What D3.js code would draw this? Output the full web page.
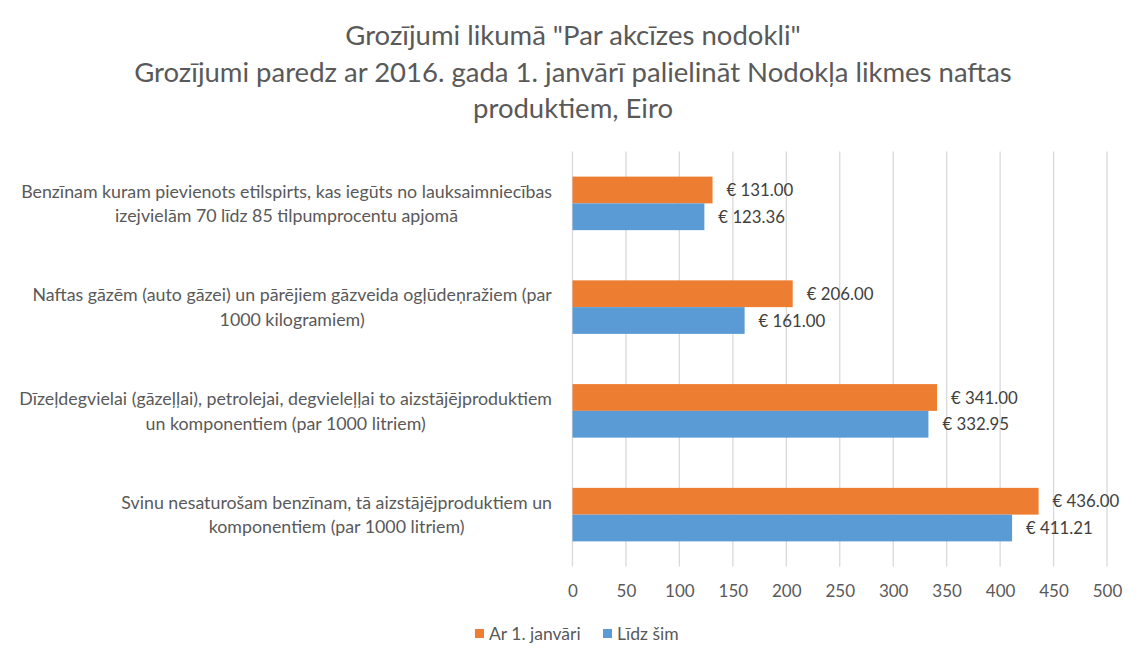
<!DOCTYPE html>
<html>
<head>
<meta charset="utf-8">
<script src="https://cdnjs.cloudflare.com/ajax/libs/d3/7.8.5/d3.min.js"></script>
<style>
  html, body { margin: 0; padding: 0; background: #fff; }
  svg { display: block; }
  text { font-family: Lato, "Open Sans", sans-serif; }
</style>
</head>
<body>
<svg id="chart" width="1146" height="664"></svg>
<script>
// ---- data ----
const titleLines = [
  'Grozījumi likumā "Par akcīzes nodokli"',
  'Grozījumi paredz ar 2016. gada 1. janvārī palielināt Nodokļa likmes naftas',
  'produktiem, Eiro'
];
const categories = [
  "Benzīnam kuram pievienots etilspirts, kas iegūts no lauksaimniecības\nizejvielām 70 līdz 85 tilpumprocentu apjomā",
  "Naftas gāzēm (auto gāzei) un pārējiem gāzveida ogļūdeņražiem (par\n1000 kilogramiem)",
  "Dīzeļdegvielai (gāzeļļai), petrolejai, degvieleļļai to aizstājējproduktiem\nun komponentiem (par 1000 litriem)",
  "Svinu nesaturošam benzīnam, tā aizstājējproduktiem un\nkomponentiem (par 1000 litriem)"
];
const seriesNames = ["Ar 1. janvāri", "Līdz šim"];
const arJanvari = [131.00, 206.00, 341.00, 436.00];
const lidzSim = [123.36, 161.00, 332.95, 411.21];
const xTicks = [0, 50, 100, 150, 200, 250, 300, 350, 400, 450, 500];
const colors = ["#ED7D31", "#5B9BD5"];

// ---- layout ----
const svg = d3.select("#chart");
const plot = { left: 572.5, right: 1107, top: 151.5, bottom: 566.5 };

const x = d3.scaleLinear().domain([0, 500]).range([plot.left, plot.right]);
const y = d3.scaleBand().domain(d3.range(categories.length))
  .range([plot.top, plot.bottom]).paddingInner(0.484).paddingOuter(0.242);
const ySub = d3.scaleBand().domain([0, 1]).range([0, y.bandwidth()]);

// title
const title = svg.append("text").attr("text-anchor", "middle")
  .attr("fill", "#595959").style("font-size", "27.5px");
titleLines.forEach((t, i) => {
  title.append("tspan").attr("x", 573).attr("y", 45 + i * 36.5).text(t);
});

// gridlines
svg.append("g").selectAll("line").data(xTicks).join("line")
  .attr("x1", d => x(d)).attr("x2", d => x(d))
  .attr("y1", plot.top).attr("y2", plot.bottom)
  .attr("stroke", "#D9D9D9").attr("stroke-width", 1.3);

// x axis labels
const xAxis = d3.axisBottom(x).tickValues(xTicks).tickSize(0).tickPadding(0);
const gx = svg.append("g").attr("transform", `translate(0,${plot.bottom})`).call(xAxis);
gx.select(".domain").remove();
gx.selectAll("text").attr("fill", "#595959").style("font-size", "17px")
  .style("font-family", "Lato, 'Open Sans', sans-serif")
  .attr("dy", null).attr("y", 30);

// bars
const series = [arJanvari, lidzSim];
series.forEach((vals, si) => {
  svg.append("g").selectAll("rect").data(vals).join("rect")
    .attr("x", x(0))
    .attr("y", (d, i) => y(i) + ySub(si))
    .attr("width", d => x(d) - x(0))
    .attr("height", ySub.bandwidth())
    .attr("fill", colors[si]);
  svg.append("g").selectAll("text").data(vals).join("text")
    .attr("x", d => x(d) + 14)
    .attr("y", (d, i) => y(i) + ySub(si) + ySub.bandwidth() / 2)
    .attr("dy", "0.36em")
    .attr("fill", "#404040").style("font-size", "16.8px")
    .text(d => "€ " + d.toFixed(2));
});

// category labels
categories.forEach((c, i) => {
  const lines = c.split("\n");
  const g = svg.append("g");
  const t = g.append("text").attr("text-anchor", "middle").attr("fill", "#595959")
    .style("font-size", "17.8px");
  const lh = 24.5;
  const cy = y(i) + y.bandwidth() / 2;
  lines.forEach((l, k) => {
    t.append("tspan").attr("x", 0)
      .attr("y", cy + (k - (lines.length - 1) / 2) * lh).attr("dy", "0.36em").text(l);
  });
  const bb = t.node().getBBox();
  g.attr("transform", `translate(${552 - bb.width / 2},0)`);
});

// legend
const legend = svg.append("g");
const legendX = [475, 603];
seriesNames.forEach((n, i) => {
  legend.append("rect").attr("x", legendX[i]).attr("y", 629).attr("width", 9).attr("height", 9)
    .attr("fill", colors[i]);
  legend.append("text").attr("x", legendX[i] + 14).attr("y", 633.5).attr("dy", "0.36em")
    .attr("fill", "#595959").style("font-size", "17.5px").text(n);
});
</script>
</body>
</html>
